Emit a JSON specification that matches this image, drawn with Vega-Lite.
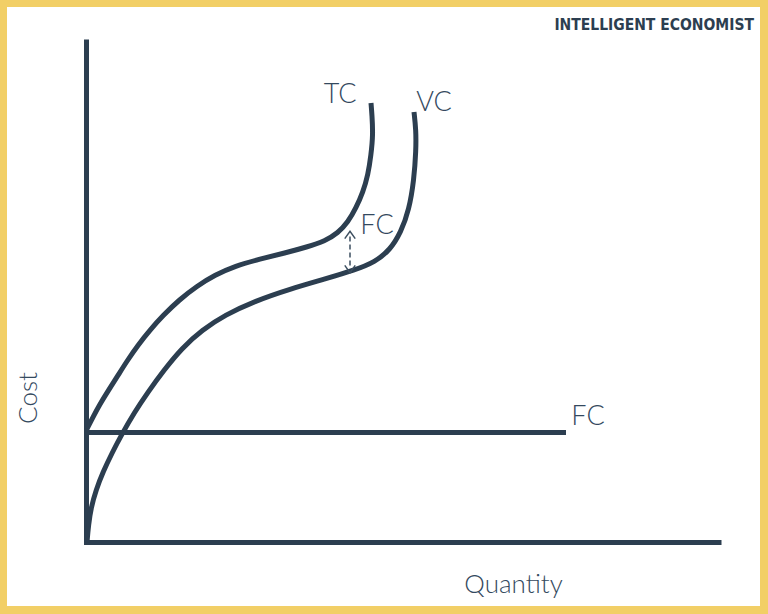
{
  "$schema": "https://vega.github.io/schema/vega-lite/v6.json",
  "width": 768,
  "height": 614,
  "autosize": {"type": "fit", "contains": "padding"},
  "padding": {"left": 7, "top": 7, "right": 8, "bottom": 8},
  "background": "#F2CF66",
  "config": {"view": {"fill": "#ffffff", "stroke": null}},
  "encoding": {
    "x": {"field": "q", "type": "quantitative", "scale": {"domain": [-7.95, 67.35], "nice": false, "zero": false}, "axis": null},
    "y": {"field": "c", "type": "quantitative", "scale": {"domain": [-6.35, 53.55], "nice": false, "zero": false}, "axis": null}
  },
  "layer": [
    {
      "data": {"values": [
        {"name": "Cost axis", "q": 0, "c": -0.25, "q2": 0, "c2": 50.3},
        {"name": "Quantity axis", "q": -0.25, "c": 0, "q2": 63.5, "c2": 0},
        {"name": "FC", "q": 0, "c": 11.0, "q2": 47.95, "c2": 11.0}
      ]},
      "mark": {"type": "rule", "color": "#2c3e50", "strokeWidth": 5, "strokeCap": "butt"},
      "encoding": {
        "x2": {"field": "q2"},
        "y2": {"field": "c2"}
      }
    },
    {
      "data": {"values": [
        {"s": "TC", "i": 0, "q": 0.05, "c": 11.35},
        {"s": "TC", "i": 1, "q": 0.65, "c": 12.55},
        {"s": "TC", "i": 2, "q": 1.35, "c": 13.85},
        {"s": "TC", "i": 3, "q": 2.15, "c": 15.15},
        {"s": "TC", "i": 4, "q": 3.05, "c": 16.55},
        {"s": "TC", "i": 5, "q": 4.05, "c": 18.15},
        {"s": "TC", "i": 6, "q": 5.15, "c": 19.75},
        {"s": "TC", "i": 7, "q": 6.35, "c": 21.25},
        {"s": "TC", "i": 8, "q": 7.65, "c": 22.7},
        {"s": "TC", "i": 9, "q": 9.25, "c": 24.25},
        {"s": "TC", "i": 10, "q": 11.05, "c": 25.65},
        {"s": "TC", "i": 11, "q": 12.85, "c": 26.75},
        {"s": "TC", "i": 12, "q": 14.85, "c": 27.65},
        {"s": "TC", "i": 13, "q": 17.35, "c": 28.35},
        {"s": "TC", "i": 14, "q": 19.85, "c": 28.95},
        {"s": "TC", "i": 15, "q": 22.05, "c": 29.55},
        {"s": "TC", "i": 16, "q": 23.85, "c": 30.15},
        {"s": "TC", "i": 17, "q": 25.15, "c": 30.95},
        {"s": "TC", "i": 18, "q": 26.15, "c": 32.05},
        {"s": "TC", "i": 19, "q": 26.95, "c": 33.45},
        {"s": "TC", "i": 20, "q": 27.65, "c": 35.05},
        {"s": "TC", "i": 21, "q": 28.15, "c": 36.75},
        {"s": "TC", "i": 22, "q": 28.45, "c": 38.75},
        {"s": "TC", "i": 23, "q": 28.65, "c": 40.75},
        {"s": "TC", "i": 24, "q": 28.55, "c": 42.75},
        {"s": "TC", "i": 25, "q": 28.45, "c": 43.95},
        {"s": "VC", "i": 0, "q": 0.05, "c": 0.05},
        {"s": "VC", "i": 1, "q": 0.2, "c": 1.75},
        {"s": "VC", "i": 2, "q": 0.45, "c": 3.45},
        {"s": "VC", "i": 3, "q": 0.95, "c": 5.25},
        {"s": "VC", "i": 4, "q": 1.65, "c": 7.05},
        {"s": "VC", "i": 5, "q": 2.55, "c": 8.95},
        {"s": "VC", "i": 6, "q": 3.55, "c": 10.85},
        {"s": "VC", "i": 7, "q": 4.75, "c": 12.95},
        {"s": "VC", "i": 8, "q": 6.15, "c": 15.05},
        {"s": "VC", "i": 9, "q": 7.75, "c": 17.25},
        {"s": "VC", "i": 10, "q": 9.55, "c": 19.45},
        {"s": "VC", "i": 11, "q": 11.55, "c": 21.25},
        {"s": "VC", "i": 12, "q": 13.85, "c": 22.75},
        {"s": "VC", "i": 13, "q": 16.85, "c": 24.15},
        {"s": "VC", "i": 14, "q": 20.35, "c": 25.35},
        {"s": "VC", "i": 15, "q": 23.85, "c": 26.35},
        {"s": "VC", "i": 16, "q": 26.85, "c": 27.25},
        {"s": "VC", "i": 17, "q": 28.85, "c": 28.05},
        {"s": "VC", "i": 18, "q": 30.35, "c": 29.25},
        {"s": "VC", "i": 19, "q": 31.45, "c": 31.05},
        {"s": "VC", "i": 20, "q": 32.25, "c": 33.25},
        {"s": "VC", "i": 21, "q": 32.75, "c": 36.25},
        {"s": "VC", "i": 22, "q": 32.95, "c": 39.25},
        {"s": "VC", "i": 23, "q": 32.95, "c": 41.25},
        {"s": "VC", "i": 24, "q": 32.75, "c": 43.05}
      ]},
      "mark": {"type": "line", "color": "#2c3e50", "strokeWidth": 5, "interpolate": "basis", "strokeCap": "butt"},
      "encoding": {
        "detail": {"field": "s"},
        "order": {"field": "i", "type": "quantitative"}
      }
    },
    {
      "data": {"values": [{"q": 26.35, "c": 30.6, "q2": 26.35, "c2": 27.5}]},
      "mark": {"type": "rule", "color": "#3d4f60", "strokeWidth": 1.5, "strokeDash": [5, 3]},
      "encoding": {"x2": {"field": "q2"}, "y2": {"field": "c2"}}
    },
    {
      "data": {"values": [{"dir": "up", "q": 26.35, "c": 30.75}]},
      "mark": {"type": "point", "shape": "M-1,0.7L0,-0.7L1,0.7", "filled": false, "color": "#3d4f60", "strokeWidth": 1.5, "size": 110, "opacity": 1}
    },
    {
      "data": {"values": [{"dir": "down", "q": 26.35, "c": 27.35}]},
      "mark": {"type": "point", "shape": "M-1,-0.7L0,0.7L1,-0.7", "filled": false, "color": "#3d4f60", "strokeWidth": 1.5, "size": 110, "opacity": 1}
    },
    {
      "data": {"values": [
        {"label": "TC", "q": 25.35, "c": 44.75},
        {"label": "VC", "q": 34.75, "c": 43.95},
        {"label": "FC", "q": 29.05, "c": 31.65},
        {"label": "FC", "q": 50.15, "c": 12.55}
      ]},
      "mark": {"type": "text", "font": "Lato", "fontWeight": 300, "fontSize": 27, "color": "#34495e", "align": "center", "baseline": "middle"},
      "encoding": {"text": {"field": "label"}}
    },
    {
      "data": {"values": [{"label": "Cost", "q": -5.75, "c": 14.45}]},
      "mark": {"type": "text", "font": "Lato", "fontWeight": 300, "fontSize": 26, "color": "#34495e", "align": "center", "baseline": "middle", "angle": 270},
      "encoding": {"text": {"field": "label"}}
    },
    {
      "data": {"values": [{"label": "Quantity", "q": 42.7, "c": -4.25}]},
      "mark": {"type": "text", "font": "Lato", "fontWeight": 300, "fontSize": 26, "color": "#34495e", "align": "center", "baseline": "middle"},
      "encoding": {"text": {"field": "label"}}
    },
    {
      "data": {"values": [{"label": "INTELLIGENT ECONOMIST", "q": 66.75, "c": 51.75}]},
      "mark": {"type": "text", "font": "DejaVu Sans Condensed", "fontWeight": "bold", "fontSize": 15.5, "color": "#2c3e50", "align": "right", "baseline": "middle"},
      "encoding": {"text": {"field": "label"}}
    }
  ]
}
